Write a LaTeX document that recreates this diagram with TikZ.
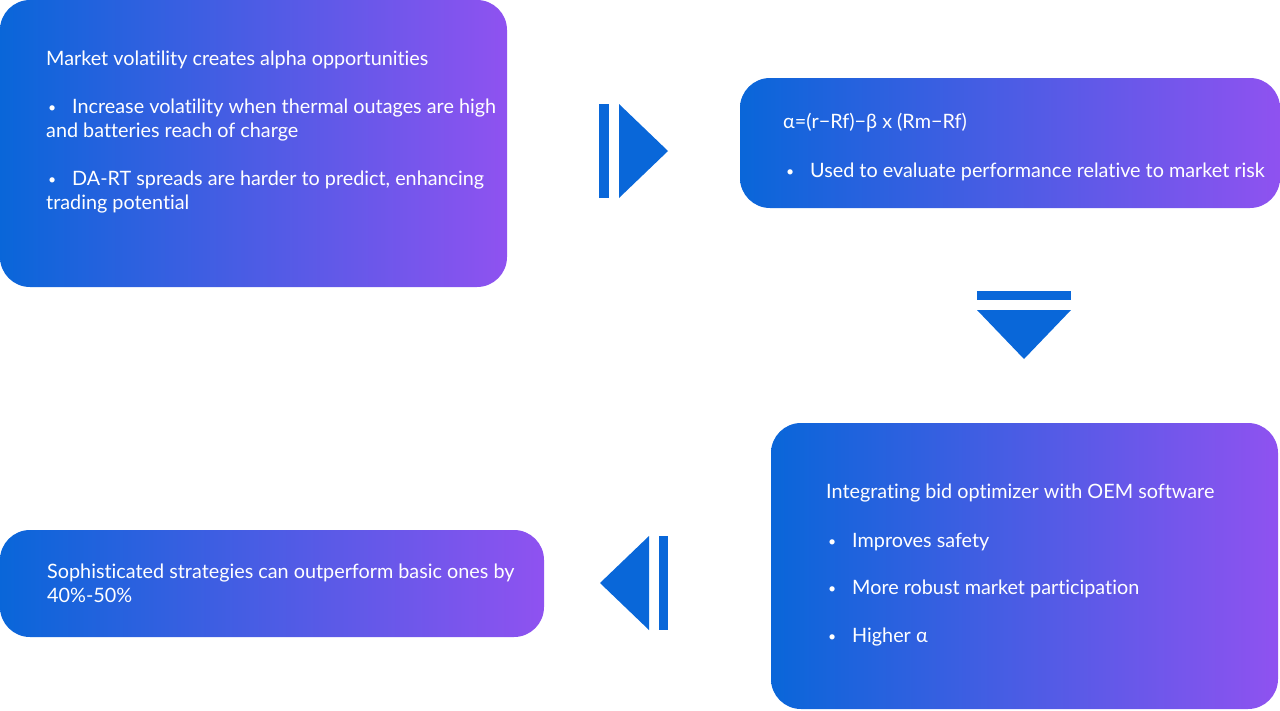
\documentclass[tikz,border=0pt]{standalone}
\usepackage{fontspec}
\setmainfont{Lato}[Ligatures=NoCommon]
\definecolor{cA}{RGB}{9,102,217}
\definecolor{cB}{RGB}{143,82,240}
\definecolor{arr}{RGB}{9,103,217}
\begin{document}
\begin{tikzpicture}[x=1pt,y=-1pt,
  card/.style={rounded corners=30pt,left color=cA,right color=cB,draw=none},
  txt/.style={anchor=base west,inner sep=0pt,text=white,font=\fontsize{19.8}{24}\selectfont},
  dot/.style={anchor=base west,inner sep=0pt,text=white,font=\fontsize{14}{24}\selectfont},
  icon/.style={fill=arr,draw=none}]
\useasboundingbox (0,0) rectangle (1280,710);
% cards
\shade[card] (0,0) rectangle (507,287);
\shade[card] (740,78) rectangle (1280,208);
\shade[card] (771,423) rectangle (1278,709);
\shade[card] (0,530) rectangle (544,637);
% card 1
\node[txt] (t1) at (46,65) {Market volatility creates alpha opportunities};
\node[dot] (b1a) at (48,112) {•};
\node[txt] (t1a) at (72,113) {Increase volatility when thermal outages are high};
\node[txt] (t1b) at (46,137) {and batteries reach of charge};
\node[dot] (b1b) at (48,184) {•};
\node[txt] (t1c) at (72,185) {DA-RT spreads are harder to predict, enhancing};
\node[txt] (t1d) at (46,209) {trading potential};
% card 2
\node[txt] (t2) at (783,128) {α=(r−Rf)−β x (Rm−Rf)};
\node[dot] (b2a) at (786,176) {•};
\node[txt] (t2a) at (810,177) {Used to evaluate performance relative to market risk};
% card 3
\node[txt] (t3) at (826,498) {Integrating bid optimizer with OEM software};
\node[dot] (b3a) at (828,546) {•};
\node[txt] (t3a) at (852,547) {Improves safety};
\node[dot] (b3b) at (828,593) {•};
\node[txt] (t3b) at (852,594) {More robust market participation};
\node[dot] (b3c) at (828,641) {•};
\node[txt] (t3c) at (852,642) {Higher α};
% card 4
\node[txt] (t4) at (47,578) {Sophisticated strategies can outperform basic ones by};
\node[txt] (t4a) at (47,602) {40\%-50\%};
% arrows
\fill[icon] (599,104) rectangle (609,198);
\fill[icon] (619,104) -- (668,151) -- (619,198) -- cycle;
\fill[icon] (977,291) rectangle (1071,300);
\fill[icon] (977,310) -- (1071,310) -- (1024,359) -- cycle;
\fill[icon] (649,536) -- (600,583) -- (649,630) -- cycle;
\fill[icon] (659,536) rectangle (668,630);
\end{tikzpicture}
\end{document}
